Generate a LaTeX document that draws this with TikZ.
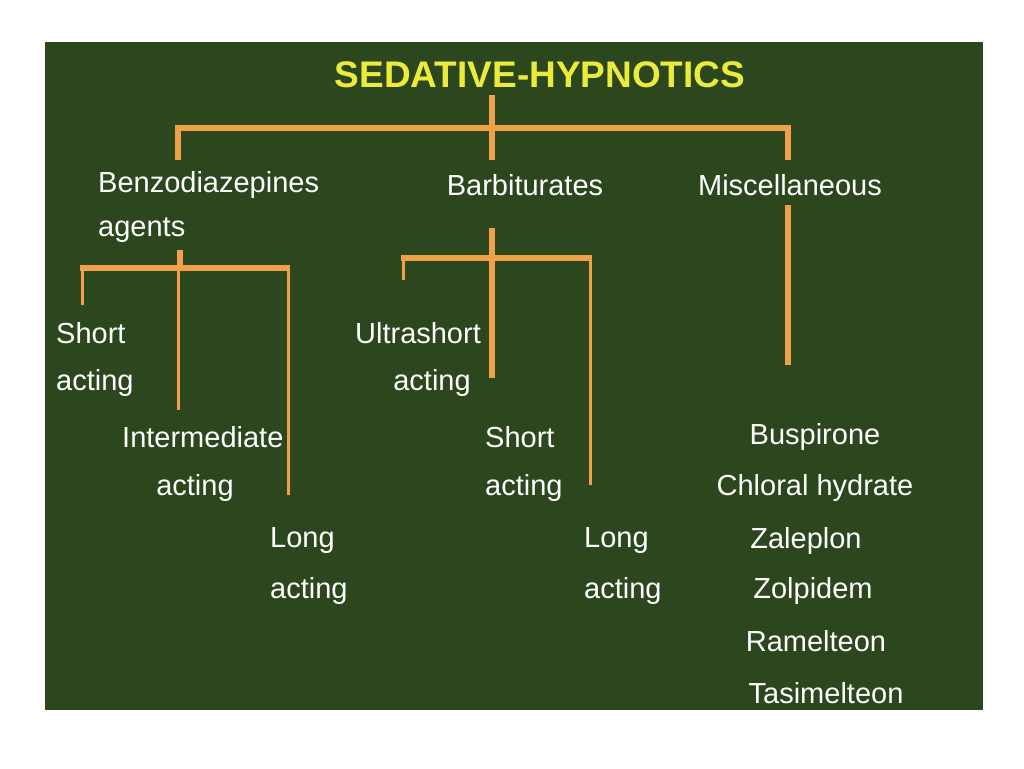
\documentclass[tikz,border=0pt]{standalone}
\usepackage{fontspec}
\setmainfont{Liberation Sans}
\definecolor{board}{RGB}{44,70,30}
\definecolor{br}{RGB}{240,160,70}
\definecolor{ttl}{RGB}{235,235,60}
\begin{document}
\begin{tikzpicture}[x=1pt,y=-1pt,
  lbl/.style={text=white,font=\fontsize{29}{34}\selectfont,inner sep=0pt},
  thick br/.style={draw=br,line width=6pt},
  thin br/.style={draw=br,line width=3pt}]
\useasboundingbox (0,0) rectangle (1024,768);
\fill[white] (0,0) rectangle (1024,768);
\fill[board] (45,42) rectangle (983,710);
\node[text=ttl,font=\bfseries\fontsize{37}{40}\selectfont,inner sep=0pt] (title) at (540,75) {SEDATIVE-HYPNOTICS};
% main bracket
\draw[thick br] (178,160) -- (178,128) -- (788,128) -- (788,160);
\draw[thick br] (492,95) -- (492,160);
\node[lbl,anchor=west] (benz) at (98,185) {Benzodiazepines};
\node[lbl,anchor=west] (benz2) at (98,230) {agents};
\node[lbl] (barb) at (525,185) {Barbiturates};
\node[lbl] (misc) at (790,185) {Miscellaneous};
\draw[thick br] (788,205) -- (788,365);
% benzo bracket
\draw[thick br] (180,250) -- (180,268);
\draw[thick br] (80,268) -- (290,268);
\draw[thin br] (82,268) -- (82,305);
\draw[thin br] (178,268) -- (178,410);
\draw[thin br] (288,268) -- (288,495);
\node[lbl,anchor=west] (s1) at (56,333) {Short};
\node[lbl,anchor=west] (s2) at (56,383) {acting};
\node[lbl,anchor=west] (i1) at (122,437) {Intermediate};
\node[lbl] (i2) at (195,488) {acting};
\node[lbl,anchor=west] (l1) at (270,541) {Long};
\node[lbl,anchor=west] (l2) at (270,591) {acting};
% barb bracket
\draw[thick br] (492,228) -- (492,378);
\draw[thick br] (401,258) -- (592,258);
\draw[thin br] (403,258) -- (403,280);
\draw[thin br] (590,258) -- (590,485);
\node[lbl] (u1) at (418,333) {Ultrashort};
\node[lbl] (u2) at (432,383) {acting};
\node[lbl,anchor=west] (bs1) at (485,437) {Short};
\node[lbl,anchor=west] (bs2) at (485,488) {acting};
\node[lbl,anchor=west] (bl1) at (584,541) {Long};
\node[lbl,anchor=west] (bl2) at (584,591) {acting};
% misc list
\node[lbl] (m1) at (815,437) {Buspirone};
\node[lbl] (m2) at (815,488) {Chloral hydrate};
\node[lbl] (m3) at (806,541) {Zaleplon};
\node[lbl] (m4) at (813,591) {Zolpidem};
\node[lbl] (m5) at (816,641) {Ramelteon};
\node[lbl] (m6) at (826,693) {Tasimelteon};
\end{tikzpicture}
\end{document}
